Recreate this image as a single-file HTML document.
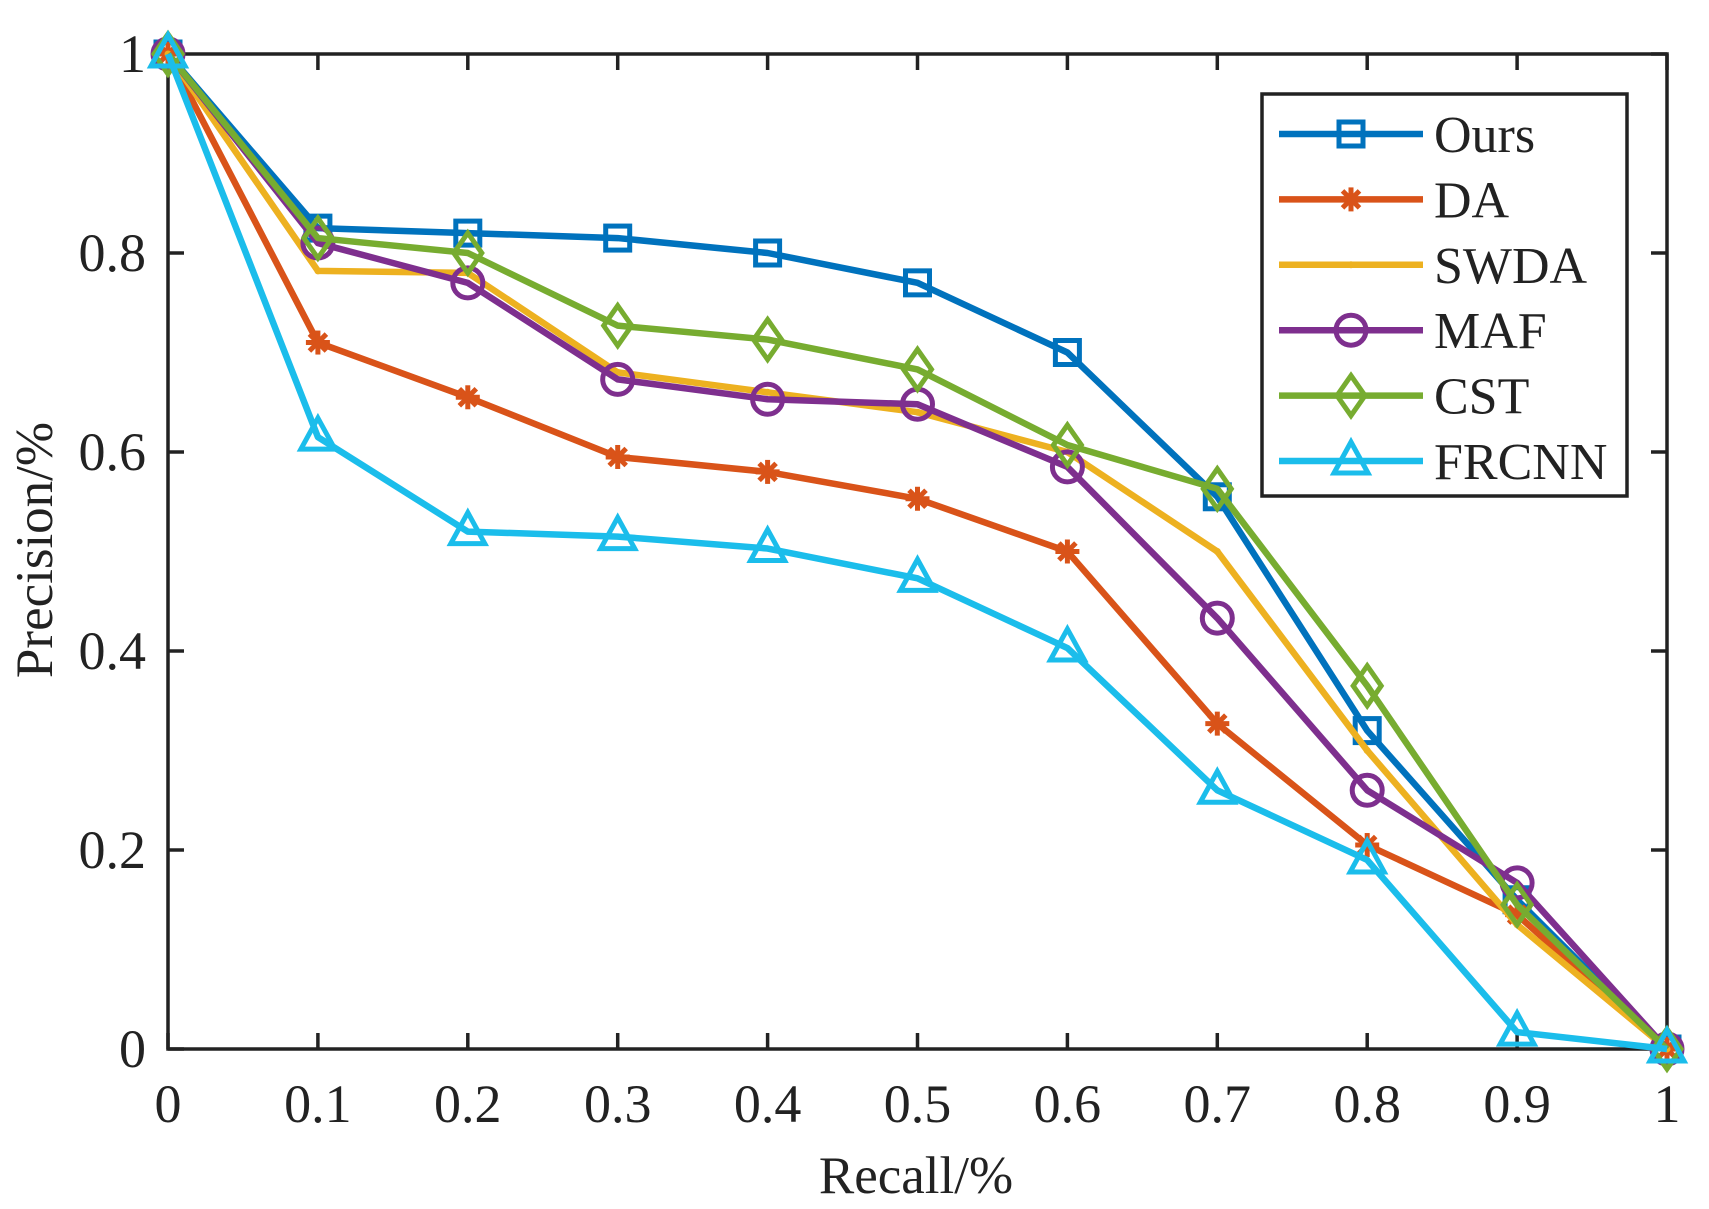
<!DOCTYPE html>
<html><head><meta charset="utf-8"><style>body{margin:0;background:#fff}svg{display:block}text{font-family:"Liberation Serif",serif;fill:#222}</style></head>
<body>
<svg id="s" width="1709" height="1209" xmlns="http://www.w3.org/2000/svg"></svg>
<script>
const s=document.getElementById('s');
const X0=168,X1=1667,Y0=1049,Y1=54;
const px=v=>X0+(X1-X0)*v, py=v=>Y0-(Y0-Y1)*v;
let h='';
h+=`<rect x="${X0}" y="${Y1}" width="${X1-X0}" height="${Y0-Y1}" fill="none" stroke="#222" stroke-width="3.5"/>`;
for(let i=0;i<=10;i++){const x=px(i/10);
 h+=`<line x1="${x}" y1="${Y0}" x2="${x}" y2="${Y0-16}" stroke="#222" stroke-width="3.5"/><line x1="${x}" y1="${Y1}" x2="${x}" y2="${Y1+16}" stroke="#222" stroke-width="3.5"/>`;
 const l=i==0?'0':i==10?'1':'0.'+i;
 h+=`<text x="${x}" y="1122" font-size="54" text-anchor="middle">${l}</text>`;}
for(let i=0;i<=5;i++){const y=py(i/5);
 h+=`<line x1="${X0}" y1="${y}" x2="${X0+16}" y2="${y}" stroke="#222" stroke-width="3.5"/><line x1="${X1}" y1="${y}" x2="${X1-16}" y2="${y}" stroke="#222" stroke-width="3.5"/>`;
 const l=i==0?'0':i==5?'1':'0.'+(2*i);
 h+=`<text x="146" y="${y+18}" font-size="54" text-anchor="end">${l}</text>`;}
h+=`<text x="916" y="1193" font-size="53" text-anchor="middle">Recall/%</text>`;
h+=`<text transform="translate(52,550) rotate(-90)" font-size="53" text-anchor="middle">Precision/%</text>`;
const S=[
['Ours','#0072BD','sq',[1,0.825,0.82,0.815,0.80,0.77,0.70,0.555,0.32,0.15,0]],
['DA','#D95319','st',[1,0.71,0.655,0.595,0.58,0.553,0.50,0.327,0.205,0.135,0]],
['SWDA','#EDB120','dot',[1,0.782,0.78,0.68,0.66,0.64,0.60,0.50,0.30,0.125,0]],
['MAF','#7E2F8E','ci',[1,0.81,0.77,0.673,0.653,0.648,0.585,0.433,0.26,0.167,0]],
['CST','#77AC30','di',[1,0.815,0.80,0.727,0.713,0.683,0.607,0.563,0.365,0.145,0]],
['FRCNN','#1BBDEB','tr',[1,0.615,0.52,0.515,0.503,0.473,0.403,0.26,0.19,0.017,0]]];
function mk(t,x,y,c){const a=`fill="none" stroke="${c}" stroke-width="5"`;
 if(t=='sq')return `<rect x="${x-12}" y="${y-12}" width="24" height="24" ${a}/>`;
 if(t=='ci')return `<circle cx="${x}" cy="${y}" r="15" ${a}/>`;
 if(t=='di')return `<polygon points="${x},${y-20} ${x+14},${y} ${x},${y+20} ${x-14},${y}" ${a}/>`;
 if(t=='tr')return `<polygon points="${x},${y-19} ${x+17},${y+12} ${x-17},${y+12}" ${a}/>`;
 if(t=='st'){let r='';for(let k=0;k<4;k++){const an=k*Math.PI/4,dx=12*Math.cos(an),dy=12*Math.sin(an);r+=`<line x1="${x-dx}" y1="${y-dy}" x2="${x+dx}" y2="${y+dy}" stroke="${c}" stroke-width="5"/>`;}return r;}
 return `<circle cx="${x}" cy="${y}" r="3.5" fill="${c}"/>`;}
S.forEach(([n,c,t,d])=>{
 h+=`<polyline points="${d.map((v,i)=>px(i/10)+','+py(v)).join(' ')}" fill="none" stroke="${c}" stroke-width="6.5" stroke-linejoin="round"/>`;
 d.forEach((v,i)=>h+=mk(t,px(i/10),py(v),c));});
h+=`<rect x="1262" y="94" width="365" height="402" fill="#fff" stroke="#222" stroke-width="3.5"/>`;
S.forEach(([n,c,t],i)=>{const y=134+i*65.4;
 h+=`<line x1="1279" y1="${y}" x2="1423" y2="${y}" stroke="${c}" stroke-width="6.5"/>`+mk(t,1351,y,c);
 h+=`<text x="1434" y="${y+18}" font-size="52">${n}</text>`;});
s.innerHTML=h;
</script>
</body></html>
